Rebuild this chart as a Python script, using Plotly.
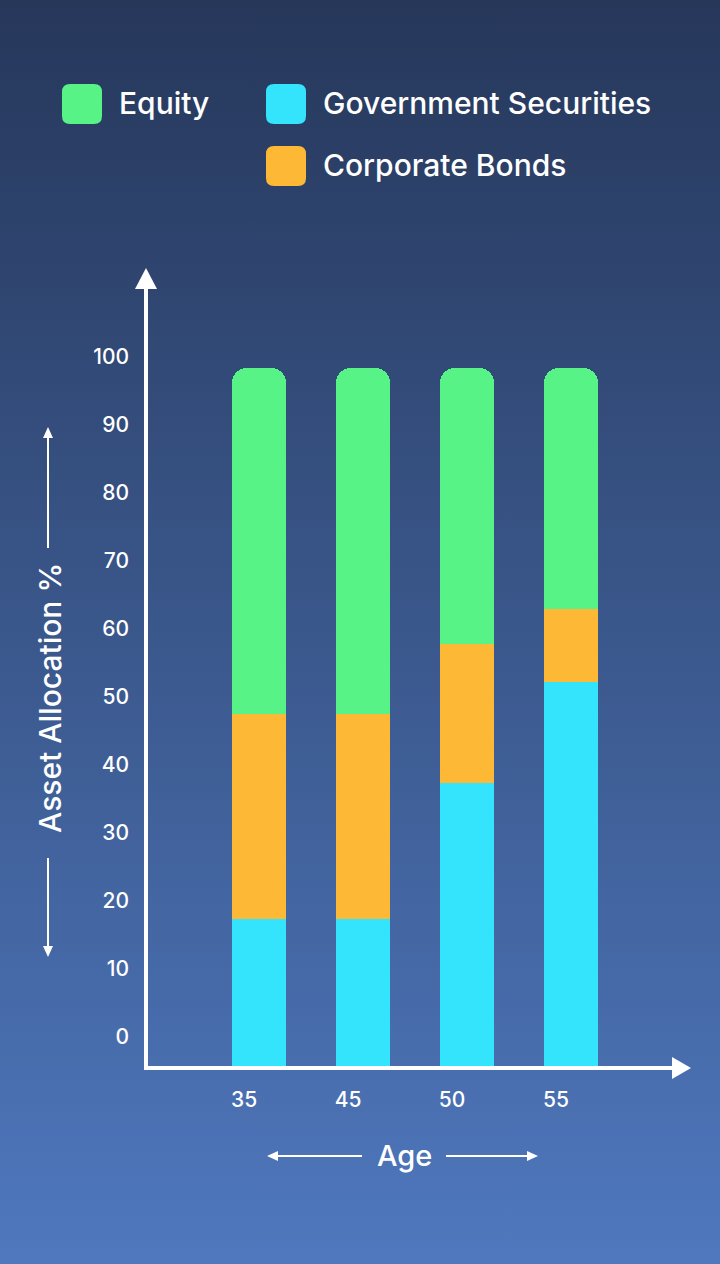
import base64
import plotly.graph_objects as go

# ---------------- data ----------------
ages = ["35", "45", "50", "55"]
gov_securities = [21, 21, 40.5, 55]
corporate_bonds = [29.5, 29.5, 20, 10.5]
equity = [49.5, 49.5, 39.5, 34.5]
series_names = ["Equity", "Government Securities", "Corporate Bonds"]
y_tick_labels = [0, 10, 20, 30, 40, 50, 60, 70, 80, 90, 100]

# ---------------- styling ----------------
W, H = 720, 1264
ML, MR, MT, MB = 146, 28, 268, 198
PW, PH = W - ML - MR, H - MT - MB
PX_PER_UNIT = 6.98
C_EQ, C_GOV, C_CORP = "#57F387", "#33E4FC", "#FDB935"
FONT = "Inter"
WHITE = "#FFFFFF"


def px(x):
    return (x - ML) / PW


def py(y):
    return (H - MB - y) / PH


fig = go.Figure()
for name, vals, col in [
    (series_names[1], gov_securities, C_GOV),
    (series_names[2], corporate_bonds, C_CORP),
    (series_names[0], equity, C_EQ),
]:
    fig.add_trace(go.Bar(x=ages, y=vals, name=name, marker=dict(color=col, line=dict(width=0)),
                         showlegend=False, hoverinfo="skip"))

# tick label positions (labels in the design sit slightly offset from the bar scale)
label_px = lambda t: 1037 - 6.8 * t
tickvals = [(H - MB - label_px(t)) / PX_PER_UNIT for t in y_tick_labels]

bg_svg = (
    f"<svg xmlns='http://www.w3.org/2000/svg' width='{W}' height='{H}' preserveAspectRatio='none'>"
    "<defs><linearGradient id='g' x1='0' y1='0' x2='0' y2='1'>"
    "<stop offset='0' stop-color='#26375A'/><stop offset='1' stop-color='#4F78BE'/>"
    "</linearGradient></defs>"
    f"<rect width='{W}' height='{H}' fill='url(#g)'/></svg>"
)
bg_src = "data:image/svg+xml;base64," + base64.b64encode(bg_svg.encode()).decode()

shapes = []


def line(x0, y0, x1, y1, w):
    shapes.append(dict(type="line", xref="paper", yref="paper", x0=px(x0), y0=py(y0),
                       x1=px(x1), y1=py(y1), line=dict(color=WHITE, width=w), layer="above"))


def tri(pts):
    d = "M" + " L".join(f"{px(a)},{py(b)}" for a, b in pts) + " Z"
    shapes.append(dict(type="path", xref="paper", yref="paper", path=d,
                       fillcolor=WHITE, line=dict(width=0), layer="above"))


def rrect(x0, y0, x1, y1, r, color):
    P = lambda a, b: f"{px(a)},{py(b)}"
    d = (f"M{P(x0 + r, y0)} L{P(x1 - r, y0)} Q{P(x1, y0)} {P(x1, y0 + r)} "
         f"L{P(x1, y1 - r)} Q{P(x1, y1)} {P(x1 - r, y1)} L{P(x0 + r, y1)} "
         f"Q{P(x0, y1)} {P(x0, y1 - r)} L{P(x0, y0 + r)} Q{P(x0, y0)} {P(x0 + r, y0)} Z")
    shapes.append(dict(type="path", xref="paper", yref="paper", path=d,
                       fillcolor=color, line=dict(width=0), layer="above"))


# main axes with arrowheads
line(146, 1070, 146, 286, 4)
tri([(146, 268), (135, 289), (157, 289)])
line(144, 1068, 674, 1068, 4)
tri([(691, 1068), (672, 1057), (672, 1079)])
# y title arrows
line(48, 548, 48, 436, 2)
tri([(48, 427), (43, 438), (53, 438)])
line(48, 858, 48, 946, 2)
tri([(48, 957), (43, 946), (53, 946)])
# age arrows
line(362, 1156, 276, 1156, 2)
tri([(267, 1156), (278, 1151), (278, 1161)])
line(446, 1156, 529, 1156, 2)
tri([(538, 1156), (527, 1151), (527, 1161)])

# legend squares
legend_items = [(series_names[0], C_EQ, 62, 84), (series_names[1], C_GOV, 266, 84),
                (series_names[2], C_CORP, 266, 146)]
annotations = []
for name, col, lx, ly in legend_items:
    rrect(lx, ly, lx + 40, ly + 40, 8, col)
    annotations.append(dict(xref="paper", yref="paper", x=px(lx + 55), y=py(ly + 19),
                            text=name, showarrow=False, xanchor="left", yanchor="middle",
                            font=dict(family=FONT, size=30, color=WHITE, weight=500)))

annotations.append(dict(xref="paper", yref="paper", x=px(50), y=py(698), text="Asset Allocation %",
                        textangle=-90, showarrow=False, xanchor="center", yanchor="middle",
                        font=dict(family=FONT, size=30, color=WHITE, weight=500)))
annotations.append(dict(xref="paper", yref="paper", x=px(404), y=py(1155), text="Age",
                        showarrow=False, xanchor="center", yanchor="middle",
                        font=dict(family=FONT, size=29, color=WHITE, weight=500)))

fig.update_layout(
    width=W, height=H,
    margin=dict(l=ML, r=MR, t=MT, b=MB, pad=0),
    barmode="stack", bargap=0.48, barcornerradius=15,
    paper_bgcolor="#3A5A8E", plot_bgcolor="rgba(0,0,0,0)",
    font=dict(family=FONT, color=WHITE),
    shapes=shapes, annotations=annotations,
    images=[dict(source=bg_src, xref="paper", yref="paper", x=px(0), y=py(0),
                 sizex=W / PW, sizey=H / PH, xanchor="left", yanchor="top",
                 sizing="stretch", layer="below")],
    xaxis=dict(range=[-1.087, -1.087 + PW / 104], showgrid=False, zeroline=False, showline=False,
               ticks="", tickfont=dict(family=FONT, size=21, color=WHITE, weight=500),
               ticklabelstandoff=19, ticklabelshift=-15, fixedrange=True),
    yaxis=dict(range=[0, PH / PX_PER_UNIT], showgrid=False, zeroline=False, showline=False,
               ticks="", tickvals=tickvals, ticktext=[str(t) for t in y_tick_labels],
               tickfont=dict(family=FONT, size=21, color=WHITE, weight=500),
               ticklabelstandoff=16, fixedrange=True),
)

fig.write_html("out.html")
